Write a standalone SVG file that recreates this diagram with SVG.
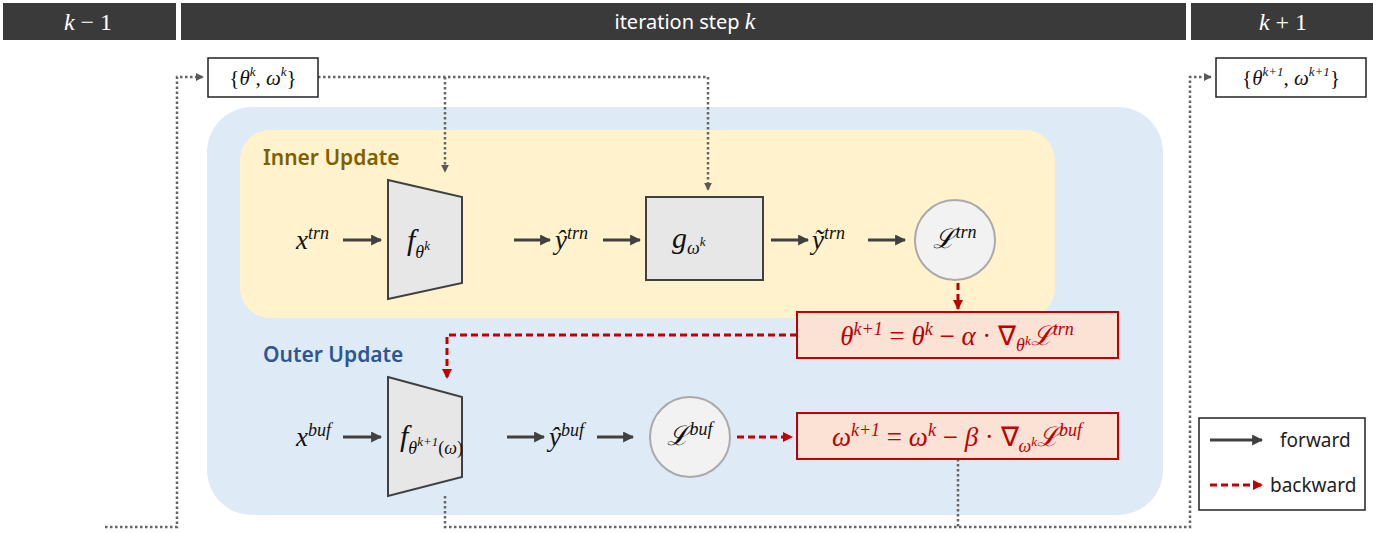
<svg xmlns="http://www.w3.org/2000/svg" width="1373" height="533" viewBox="0 0 1373 533">
<defs>
<marker id="ag" viewBox="0 0 10 10" refX="9" refY="5" markerWidth="8" markerHeight="8" markerUnits="userSpaceOnUse" orient="auto"><path d="M0,0L10,5L0,10z" fill="#595959"/></marker>
<marker id="ak" viewBox="0 0 10 10" refX="9" refY="5" markerWidth="11" markerHeight="11" markerUnits="userSpaceOnUse" orient="auto"><path d="M0,0L10,5L0,10z" fill="#404040"/></marker>
<marker id="ar" viewBox="0 0 10 10" refX="9" refY="5" markerWidth="10" markerHeight="10" markerUnits="userSpaceOnUse" orient="auto"><path d="M0,0L10,5L0,10z" fill="#c00000"/></marker>
</defs>
<style>
.m{font-family:"Liberation Serif",serif;font-style:italic;font-size:27px;fill:#111}
.s{font-size:18px}
.t{font-size:13px}
.hd{font-family:"Noto Sans",sans-serif;font-size:20px;fill:#fff}
.lab{font-family:"Noto Sans",sans-serif;font-size:21px;font-weight:600}
.fw{stroke:#404040;stroke-width:3;fill:none;marker-end:url(#ak)}
.bw{stroke:#c00000;stroke-width:3;stroke-dasharray:7,4;fill:none;marker-end:url(#ar)}
.dt{stroke:#666;stroke-width:2.5;stroke-dasharray:2.5,2.5;fill:none}
.node{fill:#e7e7e7;stroke:#404040;stroke-width:2}
.eq{fill:#fbe2d5;stroke:#c00000;stroke-width:2}
.r{fill:#c00000}
</style>
<g id="header">
<rect x="3" y="3" width="173" height="37" fill="#3a3a3a"/>
<rect x="181" y="3" width="1005" height="37" fill="#3a3a3a"/>
<rect x="1191" y="3" width="182" height="37" fill="#3a3a3a"/>
<text x="88" y="30" text-anchor="middle" class="m" style="fill:#fff;font-size:24px">k <tspan font-style="normal">− 1</tspan></text>
<text x="685" y="29" text-anchor="middle" class="hd">iteration step <tspan font-family="Liberation Serif" font-style="italic" font-size="24">k</tspan></text>
<text x="1283" y="30" text-anchor="middle" class="m" style="fill:#fff;font-size:24px">k <tspan font-style="normal">+ 1</tspan></text>
</g>
<g id="panels">
<rect x="207" y="107" width="956" height="408" rx="45" fill="#deeaf6"/>
<rect x="240" y="130" width="815" height="188" rx="30" fill="#fff2cc"/>
<text x="263" y="165" class="lab" fill="#7f6000">Inner Update</text>
<text x="263" y="362" class="lab" fill="#2f5597">Outer Update</text>
</g>
<g id="connectors">
<polyline class="dt" points="105,527 177,527 177,77 203,77" marker-end="url(#ag)"/>
<polyline class="dt" points="318,77 708,77 708,190" marker-end="url(#ag)"/>
<polyline class="dt" points="445,77 445,172" marker-end="url(#ag)"/>
<polyline class="dt" points="445,496 445,527 1190,527 1190,77 1211,77" marker-end="url(#ag)"/>
<polyline class="dt" points="958,459 958,527"/>
<line class="fw" x1="343" y1="240" x2="381" y2="240"/>
<line class="fw" x1="514" y1="240" x2="550" y2="240"/>
<line class="fw" x1="603" y1="240" x2="640" y2="240"/>
<line class="fw" x1="771" y1="240" x2="808" y2="240"/>
<line class="fw" x1="868" y1="240" x2="905" y2="240"/>
<line class="fw" x1="343" y1="437" x2="381" y2="437"/>
<line class="fw" x1="507" y1="437" x2="544" y2="437"/>
<line class="fw" x1="597" y1="437" x2="633" y2="437"/>
<line class="bw" x1="958" y1="283" x2="958" y2="309"/>
<polyline class="bw" points="797,335 447,335 447,378"/>
<line class="bw" x1="737" y1="437" x2="792" y2="437"/>
</g>
<g id="theta_k">
<rect x="208" y="58" width="110" height="39" fill="#fff" stroke="#222" stroke-width="1.5"/>
<text x="263" y="85" text-anchor="middle" class="m" style="font-size:21px"><tspan font-style="normal">{</tspan>θ<tspan class="t" dy="-9">k</tspan><tspan dy="9">, ω</tspan><tspan class="t" dy="-9">k</tspan><tspan dy="9" font-style="normal">}</tspan></text>
</g>
<g id="theta_k1">
<rect x="1216" y="58" width="150" height="39" fill="#fff" stroke="#222" stroke-width="1.5"/>
<text x="1291" y="85" text-anchor="middle" class="m" style="font-size:21px"><tspan font-style="normal">{</tspan>θ<tspan class="t" dy="-9">k+1</tspan><tspan dy="9">, ω</tspan><tspan class="t" dy="-9">k+1</tspan><tspan dy="9" font-style="normal">}</tspan></text>
</g>
<g id="xtrn"><text x="296" y="249" class="m">x<tspan class="s" dy="-10">trn</tspan></text></g>
<g id="f_theta_k">
<polygon class="node" points="388,180 462,197 462,283 388,299"/>
<text x="407" y="250" class="m" style="font-size:30px">f<tspan class="s" dy="8">θ</tspan><tspan class="t" dy="-8">k</tspan></text>
</g>
<g id="yhat_trn"><text x="555" y="249" class="m">ŷ<tspan class="s" dy="-10">trn</tspan></text></g>
<g id="g_omega">
<rect class="node" x="646" y="197" width="117" height="83"/>
<text x="672" y="248" class="m" style="font-size:30px">g<tspan class="s" dy="6">ω</tspan><tspan class="t" dy="-8">k</tspan></text>
</g>
<g id="ytilde_trn"><text x="812" y="249" class="m">ỹ<tspan class="s" dy="-10">trn</tspan></text></g>
<g id="L_trn">
<circle cx="955" cy="240" r="40" fill="#f2f2f2" stroke="#aaa" stroke-width="2"/>
<text x="955" y="248" text-anchor="middle" class="m">ℒ<tspan class="s" dy="-10">trn</tspan></text>
</g>
<g id="eq_theta">
<rect class="eq" x="797" y="312" width="321" height="46"/>
<text x="957" y="345" text-anchor="middle" class="m r">θ<tspan class="s" dy="-10">k+1</tspan><tspan dy="10" font-style="normal"> = </tspan>θ<tspan class="s" dy="-10">k</tspan><tspan dy="10" font-style="normal"> − </tspan>α<tspan font-style="normal"> · ∇</tspan><tspan class="s" dy="6">θ</tspan><tspan class="t" dy="-6">k</tspan><tspan dy="0">ℒ</tspan><tspan class="s" dy="-10">trn</tspan></text>
</g>
<g id="xbuf"><text x="296" y="446" class="m">x<tspan class="s" dy="-10">buf</tspan></text></g>
<g id="f_theta_k1">
<polygon class="node" points="388,377 462,397 462,477 388,496"/>
<text x="400" y="446" class="m" style="font-size:30px">f<tspan class="s" dy="8">θ</tspan><tspan class="t" dy="-8">k+1</tspan><tspan class="s" dy="8" font-style="normal">(</tspan><tspan class="s">ω</tspan><tspan class="s" font-style="normal">)</tspan></text>
</g>
<g id="yhat_buf"><text x="549" y="446" class="m">ŷ<tspan class="s" dy="-10">buf</tspan></text></g>
<g id="L_buf">
<circle cx="690" cy="437" r="40" fill="#f2f2f2" stroke="#aaa" stroke-width="2"/>
<text x="690" y="445" text-anchor="middle" class="m">ℒ<tspan class="s" dy="-10">buf</tspan></text>
</g>
<g id="eq_omega">
<rect class="eq" x="797" y="413" width="321" height="46"/>
<text x="957" y="446" text-anchor="middle" class="m r">ω<tspan class="s" dy="-10">k+1</tspan><tspan dy="10" font-style="normal"> = </tspan>ω<tspan class="s" dy="-10">k</tspan><tspan dy="10" font-style="normal"> − </tspan>β<tspan font-style="normal"> · ∇</tspan><tspan class="s" dy="6">ω</tspan><tspan class="t" dy="-6">k</tspan><tspan dy="0">ℒ</tspan><tspan class="s" dy="-10">buf</tspan></text>
</g>
<g id="legend">
<rect x="1199" y="418" width="166" height="92" fill="#fff" stroke="#222" stroke-width="1.5"/>
<line class="fw" x1="1210" y1="440" x2="1262" y2="440"/>
<text x="1280" y="447" font-family="Noto Sans,sans-serif" font-size="19" fill="#222">forward</text>
<line class="bw" x1="1210" y1="485" x2="1262" y2="485"/>
<text x="1270" y="492" font-family="Noto Sans,sans-serif" font-size="19" fill="#222">backward</text>
</g>
</svg>
